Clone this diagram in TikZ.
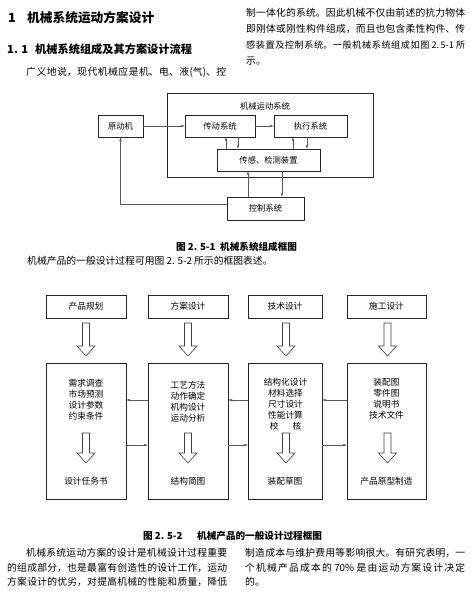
\documentclass[tikz,border=0pt]{standalone}
\usepackage{fontspec}
\setmainfont{Noto Sans CJK SC}
\usetikzlibrary{arrows.meta}
\newcommand{\jline}[2]{\parbox{#1}{\XeTeXlinebreaklocale "zh"\XeTeXlinebreakskip=0pt plus 6pt\parfillskip=0pt\relax #2}}
\newcommand{\harrowdown}[3]{%
  \draw[hollow] (#1-3.5,#2) -- (#1+3.5,#2) -- (#1+3.5,#3-10) -- (#1+9,#3-10) -- (#1,#3) -- (#1-9,#3-10) -- (#1-3.5,#3-10) -- cycle;}
\begin{document}
\begin{tikzpicture}[x=1pt,y=-1pt,
  body/.style={inner sep=0pt, anchor=west, font=\fontsize{9.8pt}{12pt}\selectfont},
  boxa/.style={draw=black!85, line width=0.7pt, minimum height=22pt, inner sep=0pt, font=\fontsize{8.3pt}{10pt}\selectfont},
  boxb/.style={draw=black!85, line width=0.7pt, inner sep=0pt, font=\fontsize{8.7pt}{11pt}\selectfont},
  lbl/.style={inner sep=0pt, align=center, font=\fontsize{8.7pt}{11pt}\selectfont},
  arr/.style={draw=black!65, line width=0.5pt, -{Stealth[length=4pt,width=2.6pt]}},
  hollow/.style={draw=black!75, line width=0.6pt, fill=white}]
\useasboundingbox (0,0) rectangle (474,610);
\fill[white] (0,0) rectangle (474,610);

% ---------- top text ----------
\node[body, font=\fontsize{12.7pt}{14pt}\selectfont\bfseries] (h1n) at (8,18) {1};
\node[body, font=\fontsize{12.7pt}{14pt}\selectfont\bfseries] (h1) at (27,18) {机械系统运动方案设计};
\node[body, font=\fontsize{11.2pt}{13pt}\selectfont\bfseries] (h2n) at (7,49.5) {1. 1};
\node[body, font=\fontsize{11.2pt}{13pt}\selectfont\bfseries] (h2) at (35,49.5) {机械系统组成及其方案设计流程};
\node[body] (t1) at (26,72) {\jline{200pt}{广义地说，现代机械应是机、电、液(气)、控}};
\node[body] (r1) at (246,12.5) {\jline{219pt}{制一体化的系统。因此机械不仅由前述的抗力物体}};
\node[body] (r2) at (246,29) {\jline{219pt}{即刚体或刚性构件组成，而且也包含柔性构件、传}};
\node[body, font=\fontsize{9.1pt}{12pt}\selectfont] (r3) at (246,45.5) {\jline{219pt}{感装置及控制系统。一般机械系统组成如图 2.\,5-1 所}};
\node[body] (r4) at (246,61) {示。};

% ---------- figure 2.5-1 ----------
\node[draw=black!85, line width=0.7pt, minimum width=206pt, minimum height=84pt, inner sep=0pt] (outer) at (270,135) {};
\node[inner sep=0pt, font=\fontsize{8.3pt}{10pt}\selectfont] (otitle) at (265,106) {机械运动系统};
\node[boxa, minimum width=45pt] (ydj) at (120.5,126) {原动机};
\node[boxa, minimum width=70pt] (cd) at (220,126) {传动系统};
\node[boxa, minimum width=73pt] (zx) at (310.5,126) {执行系统};
\node[boxa, minimum width=103pt] (cg) at (268.5,160) {传感、检测装置};
\node[boxa, minimum width=77pt, minimum height=23pt] (kz) at (265.5,208.5) {控制系统};

\coordinate (c1) at (226,0);
\coordinate (c2) at (238,0);
\coordinate (c3) at (293,0);
\coordinate (c4) at (307,0);
\coordinate (c5) at (248,0);
\coordinate (c6) at (282,0);
\draw[arr] (ydj.east) -- (cd.west);
\draw[arr] (cd.east) -- (zx.west);
\draw[arr] (cg.north -| c1) -- (cd.south -| c1);
\draw[arr] (cd.south -| c2) -- (cg.north -| c2);
\draw[arr] (cg.north -| c3) -- (zx.south -| c3);
\draw[arr] (zx.south -| c4) -- (cg.north -| c4);
\draw[arr] (kz.north -| c5) -- (cg.south -| c5);
\draw[arr] (cg.south -| c6) -- (kz.north -| c6);
\draw[arr] ([yshift=4.5pt]kz.west) -| (ydj.south);

\node[body, font=\fontsize{9.6pt}{12pt}\selectfont\bfseries] (cap1n) at (176,247) {图 2. 5-1};
\node[body, font=\fontsize{9.6pt}{12pt}\selectfont\bfseries] (cap1) at (220,247) {机械系统组成框图};
\node[body] (t2) at (27,261) {机械产品的一般设计过程可用图 2. 5-2 所示的框图表述。};

% ---------- figure 2.5-2 ----------
\node[boxb, minimum width=80pt, minimum height=23pt] (p1) at (86,306.5) {产品规划};
\node[boxb, minimum width=80pt, minimum height=23pt] (p2) at (188,306.5) {方案设计};
\node[boxb, minimum width=74pt, minimum height=23pt] (p3) at (285,306.5) {技术设计};
\node[boxb, minimum width=79pt, minimum height=23pt] (p4) at (386.5,306.5) {施工设计};

\node[boxb, minimum width=80pt, minimum height=136pt] (b1) at (86,431) {};
\node[boxb, minimum width=80pt, minimum height=136pt] (b2) at (188,431) {};
\node[boxb, minimum width=74pt, minimum height=136pt] (b3) at (285,431) {};
\node[boxb, minimum width=79pt, minimum height=136pt] (b4) at (386.5,431) {};

\harrowdown{86}{323}{356}
\harrowdown{188}{323}{356}
\harrowdown{286}{323}{356}
\harrowdown{387.5}{323}{356}

\node[lbl] (l1) at (86,399.5) {需求调查\\市场预测\\设计参数\\约束条件};
\node[lbl] (l2) at (188,401.5) {工艺方法\\动作确定\\机构设计\\运动分析};
\node[lbl] (l3) at (285.5,404) {结构化设计\\材料选择\\尺寸设计\\性能计算\\校\hspace{14pt}核};
\node[lbl] (l4) at (386.5,398.5) {装配图\\零件图\\说明书\\技术文件};

\harrowdown{86}{433}{463}
\harrowdown{188}{433}{463}
\harrowdown{286}{433}{463}
\harrowdown{387.5}{433}{463}

\node[lbl] (e1) at (86,481) {设计任务书};
\node[lbl] (e2) at (188,481) {结构简图};
\node[lbl] (e3) at (285,481) {装配草图};
\node[lbl] (e4) at (386.5,481) {产品原型制造};

\coordinate (yu) at (0,400);
\coordinate (yl) at (0,445);
\draw[arr] (b2.west |- yu) -- (b1.east |- yu);
\draw[arr] (b3.west |- yu) -- (b2.east |- yu);
\draw[arr] (b4.west |- yu) -- (b3.east |- yu);
\draw[arr] (b1.east |- yl) -- (b2.west |- yl);
\draw[arr] (b2.east |- yl) -- (b3.west |- yl);
\draw[arr] (b3.east |- yl) -- (b4.west |- yl);

\node[body, font=\fontsize{9.6pt}{12pt}\selectfont\bfseries] (cap2n) at (143,536) {图 2. 5-2};
\node[body, font=\fontsize{9.6pt}{12pt}\selectfont\bfseries] (cap2) at (197,536) {机械产品的一般设计过程框图};

% ---------- bottom text ----------
\node[body] (bl1) at (26,553) {\jline{201pt}{机械系统运动方案的设计是机械设计过程重要}};
\node[body] (bl2) at (7,568) {\jline{220pt}{的组成部分，也是最富有创造性的设计工作，运动}};
\node[body] (bl3) at (7,581.5) {\jline{220pt}{方案设计的优劣，对提高机械的性能和质量，降低}};
\node[body] (br1) at (245,553) {\jline{220pt}{制造成本与维护费用等影响很大。有研究表明，一}};
\node[body] (br2) at (245,568) {\jline{220pt}{个机械产品成本的 70\% 是由运动方案设计决定}};
\node[body] (br3) at (245,581.5) {的。};
\end{tikzpicture}
\end{document}
